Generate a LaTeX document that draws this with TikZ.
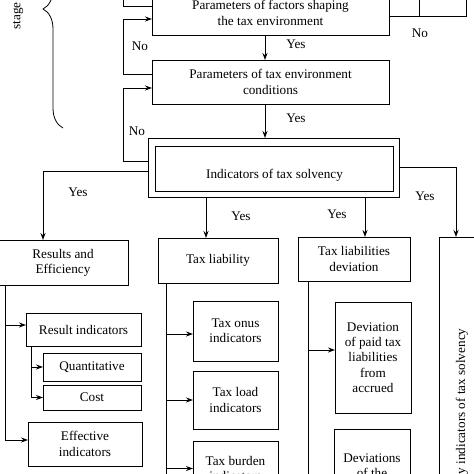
\documentclass[tikz,border=0pt]{standalone}
\usepackage{fontspec}
\setmainfont{Liberation Serif}
\usetikzlibrary{arrows.meta,decorations.pathreplacing,calc}
\begin{document}
\begin{tikzpicture}[x=1pt,y=-1pt,
 font=\fontsize{13.2}{15.3}\selectfont,
 line width=1pt,
 box/.style={draw, line width=1pt, align=center, inner sep=0pt, outer sep=0pt},
 arr/.style={-{Stealth[length=7pt,width=5pt]}},
 lbl/.style={inner sep=0pt}]
\useasboundingbox (0,0) rectangle (474,474);
\clip (0,0) rectangle (474,474);

% top boxes
\node[box, minimum width=237pt, minimum height=44pt] (box1) at (270.5,13) {Parameters of factors shaping\\the tax environment};
\node[box, minimum width=237pt, minimum height=44pt] (box2) at (270.5,82) {Parameters of tax environment\\conditions};
\node[box, minimum width=251pt, minimum height=59pt] (b3o) at (273.5,167.5) {};
\node[box, minimum width=238pt, minimum height=45pt] (b3i) at (274,168.5) {};
\node[lbl] (solv) at (274.5,175) {Indicators of tax solvency};
\node[box, minimum width=47pt, minimum height=46pt] (tr) at (442.5,-7) {};

% second level
\node[box, minimum width=130pt, minimum height=45pt] (res) at (63,262.5) {Results and\\Efficiency};
\node[box, minimum width=120pt, minimum height=45pt] (tl) at (218,260.5) {Tax liability};
\node[box, minimum width=112pt, minimum height=44pt] (tld) at (354,259) {Tax liabilities\\deviation};
\node[box, minimum width=47pt, minimum height=283pt] (tall) at (462.5,378.5) {};
\node[lbl, rotate=90, anchor=east] (tallt) at (462,328) {y indicators of tax solvency};

% third level
\node[box, minimum width=115pt, minimum height=33pt] (ri) at (83.5,329.5) {Result indicators};
\node[box, minimum width=98pt, minimum height=28pt] (q) at (92,367) {Quantitative};
\node[box, minimum width=98pt, minimum height=25pt] (cost) at (92,397.5) {Cost};
\node[box, minimum width=114pt, minimum height=44pt] (ei) at (85,444) {Effective\\indicators};

\node[box, minimum width=85pt, minimum height=60pt] (onus) at (235.5,331) {Tax onus\\indicators};
\node[box, minimum width=85pt, minimum height=58pt] (load) at (235.5,400) {Tax load\\indicators};
\node[box, minimum width=85pt, minimum height=55pt] (burden) at (235.5,468.5) {Tax burden\\indicators};

\node[box, minimum width=76pt, minimum height=111pt] (dev1) at (373,357.5) {Deviation\\of paid tax\\liabilities\\from\\accrued};
\node[box, minimum width=76pt, minimum height=73pt] (dev2) at (372,465.5) {Deviations\\of the};

% stage and brace
\node[lbl, rotate=90, anchor=west] (stg) at (18,30) {stage};
\draw[line width=0.8pt, decorate, decoration={brace, amplitude=20pt}] (63,128) -- (63,-110);

% vertical Yes arrows
\draw[arr] ([xshift=-5.5pt]box1.south) -- ([xshift=-5.5pt]box2.north);
\coordinate (y2) at ([xshift=-5.5pt]box2.south);
\draw[arr] (y2) -- (y2 |- b3o.north);

% feedback No lines
\coordinate (fbtop) at (123,-10);
\draw (fbtop) |- ([yshift=7pt]box1.west);
\draw[arr] ([yshift=8pt]box2.west) -- ++(-29,0) |- ([yshift=-6pt]box1.west);
\draw[arr] ([yshift=6.5pt]b3o.west) -- ++(-25,0) |- ([yshift=-6pt]box2.west);
\draw (tr.south west) -- (tr.south west -| box1.east);

% from solvency
\coordinate (a1) at ([xshift=-20pt]res.north);
\draw[arr] ([yshift=-3.5pt]b3o.west) -| (a1);
\coordinate (a2) at ([xshift=-12pt]tl.north);
\draw[arr] (b3o.south -| a2) -- (a2);
\coordinate (a3) at ([xshift=11pt]tld.north);
\draw[arr] (b3o.south -| a3) -- (a3);
\coordinate (a4) at ([xshift=-6.5pt]tall.north);
\draw[arr] (b3o.east) -| (a4);

% children of results
\coordinate (rt) at ([xshift=-58pt]res.south);
\draw[arr] (rt) |- ([yshift=4.5pt]ri.west);
\draw[arr] (rt) |- ([yshift=4pt]ei.west);
\coordinate (qt) at ([xshift=-52.5pt]ri.south);
\draw[arr] (qt) |- (q.west);
\draw[arr] (qt) |- (cost.west);

% children of tax liability
\coordinate (tt) at ([xshift=-52pt]tl.south);
\draw (tt) -- (tt |- 0,490);
\coordinate (o1) at ([yshift=-3pt]onus.west);
\draw[arr] (o1 -| tt) -- (o1);
\draw[arr] (load.west -| tt) -- (load.west);
\draw[arr] (burden.west -| tt) -- (burden.west);

% children of deviation
\coordinate (dt) at ([xshift=-46pt]tld.south);
\draw (dt) -- (dt |- 0,490);
\coordinate (d1) at ([yshift=7.5pt]dev1.west);
\draw[arr] (d1 -| dt) -- (d1);

% labels
\node[lbl] (no1) at (140,46) {No};
\node[lbl] (no2) at (137,131) {No};
\node[lbl] (no3) at (420,33) {No};
\node[lbl] (yes1) at (296,44) {Yes};
\node[lbl] (yes2) at (296,118) {Yes};
\node[lbl] (yes3) at (78,192) {Yes};
\node[lbl] (yes4) at (241,216) {Yes};
\node[lbl] (yes5) at (337,214) {Yes};
\node[lbl] (yes6) at (425,196) {Yes};
\end{tikzpicture}
\end{document}
